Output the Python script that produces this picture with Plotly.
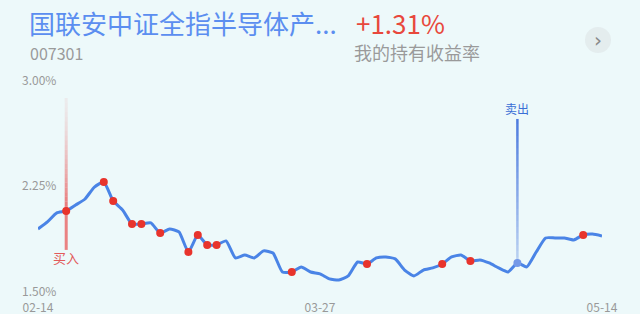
import plotly.graph_objects as go

# ---- data ----
dates = ["02-14","02-17","02-18","02-19","02-20","02-21","02-24","02-25","02-26","02-27","02-28",
         "03-02","03-03","03-04","03-05","03-06","03-09","03-10","03-11","03-12","03-13",
         "03-16","03-17","03-18","03-19","03-20","03-23","03-24","03-25","03-26","03-27",
         "03-30","03-31","04-01","04-02","04-03","04-07","04-08","04-09","04-10",
         "04-13","04-14","04-15","04-16","04-17","04-20","04-21","04-22","04-23","04-24",
         "04-27","04-28","04-29","04-30","05-06","05-07","05-08","05-11","05-12","05-13","05-14"]
values = [1.934,1.984,2.048,2.062,2.104,2.147,2.232,2.268,2.133,2.069,1.969,
          1.969,1.977,1.905,1.934,1.913,1.770,1.891,1.820,1.820,1.849,
          1.728,1.749,1.728,1.778,1.763,1.628,1.628,1.664,1.628,1.614,
          1.579,1.571,1.600,1.699,1.685,1.728,1.735,1.721,1.642,
          1.600,1.642,1.657,1.685,1.735,1.749,1.706,1.714,1.692,1.657,
          1.628,1.692,1.664,1.770,1.870,1.870,1.870,1.856,1.891,1.898,1.884]
red_idx = [3,7,8,10,11,13,16,17,18,19,27,35,43,46,58]
buy_idx = 3
sell_idx = 51
ytick_vals = [3.00, 2.25, 1.50]
ytick_text = ["3.00%", "2.25%", "1.50%"]
xtick_idx = [0, 30, 60]

W, H = 640, 314
ML, MR, MT, MB = 38, 38, 79, 24
PW, PH = W - ML - MR, H - MT - MB

def px(x):
    return (x - ML) / PW

def py(y):
    return (H - MB - y) / PH

x = list(range(len(dates)))

fig = go.Figure()

# buy vertical line (gradient approximated by segments)
top_b, bot_b = 2.865, 1.785
n = 24
for i in range(n):
    y0 = top_b - (top_b - values[buy_idx]) * i / n
    y1 = top_b - (top_b - values[buy_idx]) * (i + 1) / n
    a = 0.08 + 0.75 * (i / n) ** 1.5
    fig.add_shape(type="line", x0=buy_idx, x1=buy_idx, y0=y0, y1=y1,
                  line=dict(color=f"rgba(232,80,80,{a:.3f})", width=3), layer="below")
fig.add_shape(type="line", x0=buy_idx, x1=buy_idx, y0=values[buy_idx], y1=bot_b,
              line=dict(color="rgba(232,90,90,0.75)", width=3), layer="below")

# sell vertical line
top_s = 2.716
for i in range(n):
    y0 = top_s - (top_s - values[sell_idx]) * i / n
    y1 = top_s - (top_s - values[sell_idx]) * (i + 1) / n
    a = 0.9 - 0.65 * (i / n)
    fig.add_shape(type="line", x0=sell_idx, x1=sell_idx, y0=y0, y1=y1,
                  line=dict(color=f"rgba(60,110,220,{a:.3f})", width=2.5), layer="below")

fig.add_trace(go.Scatter(x=x, y=values, mode="lines",
                         line=dict(color="#4a84e6", width=3, shape="spline", smoothing=0.5),
                         hoverinfo="skip", showlegend=False))
fig.add_trace(go.Scatter(x=red_idx, y=[values[i] for i in red_idx], mode="markers",
                         marker=dict(color="#e8342c", size=8), hoverinfo="skip", showlegend=False))
fig.add_trace(go.Scatter(x=[sell_idx], y=[values[sell_idx]], mode="markers",
                         marker=dict(color="#7499e8", size=8), hoverinfo="skip", showlegend=False))

ann = []
# y labels
for v, t in zip(ytick_vals, ytick_text):
    ann.append(dict(x=px(20), y=v, xref="paper", yref="y", text=t, showarrow=False,
                    xanchor="left", yanchor="middle",
                    font=dict(family="Noto Sans CJK SC", size=12, color="#999999")))
# buy / sell texts
ann.append(dict(x=buy_idx, y=py(257), xref="x", yref="paper", text="买入", showarrow=False,
                xanchor="center", yanchor="middle",
                font=dict(family="Noto Sans CJK SC", size=13, color="#e25a5a")))
ann.append(dict(x=sell_idx, y=py(108), xref="x", yref="paper", text="卖出", showarrow=False,
                xanchor="center", yanchor="middle",
                font=dict(family="Noto Sans CJK SC", size=12, color="#3a6fd6")))
# header
ann.append(dict(x=px(27), y=py(22), xref="paper", yref="paper", text="国联安中证全指半导体产...",
                showarrow=False, xanchor="left", yanchor="middle",
                font=dict(family="Noto Sans CJK SC", size=26, color="#5b8ef0")))
ann.append(dict(x=px(354), y=py(22), xref="paper", yref="paper", text="+1.31%",
                showarrow=False, xanchor="left", yanchor="middle",
                font=dict(family="Noto Sans CJK SC", size=26, color="#e8483c")))
ann.append(dict(x=px(28), y=py(53), xref="paper", yref="paper", text="007301",
                showarrow=False, xanchor="left", yanchor="middle",
                font=dict(family="Noto Sans CJK SC", size=16, color="#9a9a9a")))
ann.append(dict(x=px(352), y=py(52), xref="paper", yref="paper", text="我的持有收益率",
                showarrow=False, xanchor="left", yanchor="middle",
                font=dict(family="Noto Sans CJK SC", size=18, color="#9a9a9a")))
ann.append(dict(x=px(598), y=py(40), xref="paper", yref="paper", text="›",
                showarrow=False, xanchor="center", yanchor="middle",
                font=dict(family="DejaVu Sans", size=20, color="#8a8a8a")))

fig.add_shape(type="circle", xref="paper", yref="paper",
              x0=px(585), x1=px(611), y0=py(53), y1=py(27),
              fillcolor="rgba(222,228,230,0.6)", line=dict(width=0), layer="below")

fig.update_layout(
    width=W, height=H,
    margin=dict(l=ML, r=MR, t=MT, b=MB, autoexpand=False),
    paper_bgcolor="#edf9fa", plot_bgcolor="rgba(0,0,0,0)",
    annotations=ann,
    xaxis=dict(range=[0, len(dates) - 1], tickvals=xtick_idx, automargin=False,
               ticktext=[dates[i] for i in xtick_idx], showgrid=False, zeroline=False,
               showline=False, ticks="", ticklabelstandoff=9,
               tickfont=dict(family="Noto Sans CJK SC", size=12, color="#999999")),
    yaxis=dict(range=[1.5, 3.0], showgrid=False, zeroline=False, showline=False,
               showticklabels=False, automargin=False),
)

fig.write_html("out.html")
